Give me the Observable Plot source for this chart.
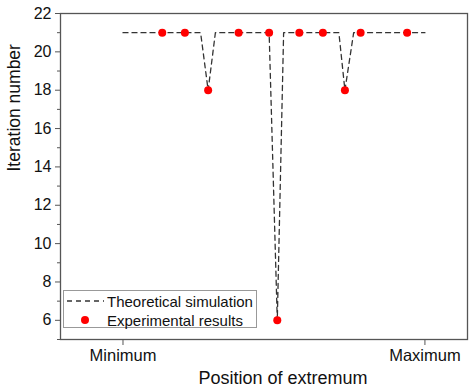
<!DOCTYPE html>
<html>
<head>
<meta charset="utf-8">
<script src="https://cdn.jsdelivr.net/npm/d3@7"></script>
<script src="https://cdn.jsdelivr.net/npm/@observablehq/plot@0.6"></script>
<style>
  html, body { margin: 0; padding: 0; background: #fff; }
  #wrap { position: relative; width: 474px; height: 390px; font-family: "Liberation Sans", Arial, sans-serif; }
  #legend { position: absolute; left: 63px; top: 290px; width: 192px; height: 36px; border: 1px solid #999; background: #fff; font-size: 15px; color: #111; }
  #legend .row { position: absolute; left: 0; height: 18px; display: flex; align-items: center; }
  #legend svg { display: block; }
</style>
</head>
<body>
<div id="wrap"></div>
<script>
// Position along the range: 0 = Minimum, 100 = Maximum
const xTickValues = [0, 100];
const xTickLabels = ["Minimum", "Maximum"];
const yTickValues = [6, 8, 10, 12, 14, 16, 18, 20, 22];
const yMinorTicks = [5, 7, 9, 11, 13, 15, 17, 19, 21];

// Theoretical simulation (dashed line)
const simPosition = [0, 25.7, 28.2, 30.6, 48.4, 51.1, 53.2, 71.5, 73.5, 76.4, 100];
const simIteration = [21, 21, 18, 21, 21, 6, 21, 21, 18, 21, 21];

// Experimental results (red dots)
const expPosition = [13.0, 20.5, 28.2, 38.3, 48.4, 51.1, 58.4, 66.2, 73.5, 78.7, 94.1];
const expIteration = [21, 21, 18, 21, 21, 6, 21, 21, 18, 21, 21];

const seriesNames = ["Theoretical simulation", "Experimental results"];
const xTitle = "Position of extremum";
const yTitle = "Iteration number";

const sim = simPosition.map((x, i) => ({x, y: simIteration[i]}));
const exp = expPosition.map((x, i) => ({x, y: expIteration[i]}));

const axisColor = "#555";

const chart = Plot.plot({
  width: 474,
  height: 390,
  marginLeft: 60,
  marginRight: 7,
  marginTop: 13,
  marginBottom: 51,
  style: {fontFamily: "Liberation Sans, Arial, sans-serif", fontSize: "16px", color: "#111", background: "#fff"},
  x: {domain: [-20.7, 114.1]},
  y: {domain: [5, 22]},
  marks: [
    Plot.frame({stroke: axisColor, strokeWidth: 1.3}),
    Plot.axisY(yTickValues, {tickSize: 5, tickPadding: 4, stroke: axisColor, label: null, fill: "#111"}),
    Plot.axisY(yMinorTicks, {tickSize: 3, tickFormat: () => "", stroke: axisColor, label: null}),
    Plot.axisX(xTickValues, {tickSize: 6, tickPadding: 4, stroke: axisColor, label: null, fill: "#111",
      tickFormat: d => xTickLabels[xTickValues.indexOf(d)], fontSize: 16.5}),
    Plot.text([xTitle], {frameAnchor: "bottom", text: d => d, dx: 19, dy: 39, fontSize: 18, fill: "#111", lineAnchor: "middle"}),
    Plot.text([yTitle], {frameAnchor: "left", text: d => d, rotate: -90, dx: -46, dy: -5, fontSize: 17.5, fill: "#111", lineAnchor: "middle"}),
    Plot.line(sim, {x: "x", y: "y", stroke: "#333", strokeWidth: 1.3, strokeDasharray: "5,4"}),
    Plot.dot(exp, {x: "x", y: "y", r: 4, fill: "#f00", stroke: "none"})
  ]
});

const wrap = document.getElementById("wrap");
wrap.appendChild(chart);

// Legend overlay
const legend = document.createElement("div");
legend.id = "legend";
legend.innerHTML = `
  <div class="row" style="top:1px">
    <svg width="43" height="18"><line x1="3" x2="40" y1="9" y2="9" stroke="#333" stroke-width="1.3" stroke-dasharray="5,4"/></svg>
    <span>${seriesNames[0]}</span>
  </div>
  <div class="row" style="top:20px">
    <svg width="43" height="18"><circle cx="21" cy="9" r="4" fill="#f00"/></svg>
    <span>${seriesNames[1]}</span>
  </div>`;
wrap.appendChild(legend);
</script>
</body>
</html>
